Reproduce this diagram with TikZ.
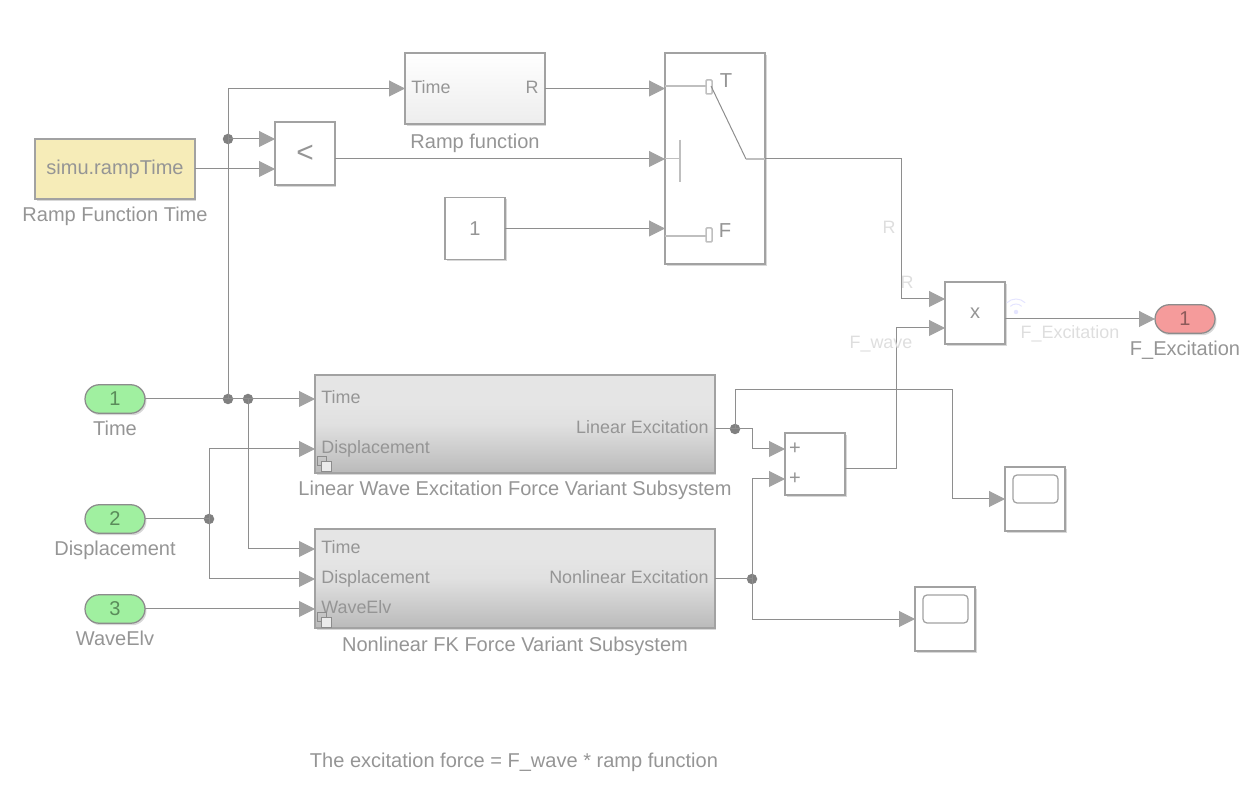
\documentclass[tikz,border=0pt]{standalone}
\usepackage{fontspec}
\setmainfont{Liberation Sans}
\usepackage{tikz}
\usetikzlibrary{arrows.meta, positioning, shapes.misc, shadows}

\definecolor{fio}{HTML}{8E8E8E}
\definecolor{borda}{HTML}{A2A2A2}
\definecolor{texto}{HTML}{959595}
\definecolor{palido}{HTML}{DEDEDE}
\pgfdeclareverticalshading{cinza}{100bp}{color(0bp)=(black!27); color(25bp)=(black!27); color(50bp)=(black!12); color(62bp)=(black!10); color(75bp)=(black!10); color(100bp)=(black!10)}

\begin{document}
\begin{tikzpicture}[
        x=0.02cm, y=-0.02cm,
        font=\fontsize{10.2}{12}\selectfont,
        text=texto,
        maior/.style={font=\fontsize{11.4}{13}\selectfont},
        sombra/.style={drop shadow={shadow xshift=0.03cm, shadow yshift=-0.04cm, fill=black!30, opacity=0.5}},
        bloco/.style={rectangle, draw=borda, line width=0.03cm, fill=white, outer sep=0pt, inner sep=0pt, maior, sombra},
        quadrado/.style={bloco, minimum width=1.2cm, minimum height=1.24cm},
        escopo/.style={bloco, minimum width=1.2cm, minimum height=1.28cm},
        subsistema/.style={bloco, minimum width=8cm, shading=cinza},
        porta/.style={rounded rectangle, draw=black!45, line width=0.025cm, minimum width=1.2cm, minimum height=0.57cm, outer sep=0pt, inner sep=0pt, maior, sombra},
        entrada/.style={porta, fill={rgb,255:red,160;green,240;blue,160}, text={rgb,255:red,90;green,140;blue,90}},
        saida/.style={porta, fill={rgb,255:red,245;green,155;blue,155}, text={rgb,255:red,140;green,90;blue,90}},
        rotulo/.style={text height=0.26cm, text depth=0.06cm, inner sep=0pt, outer sep=0pt, maior},
        textoporta/.style={anchor=west, inner sep=0pt, text height=0.26cm, text depth=0.06cm},
        sinal/.style={inner sep=0pt, text=palido, text height=0.26cm, text depth=0.06cm},
        juncao/.style={circle, fill=black!50, inner sep=0pt, minimum size=0.21cm},
        tela/.style={draw=borda, line width=0.025cm, rounded corners=0.08cm},
        interno/.style={draw=black!25, line width=0.03cm},
        conector/.style={draw=fio, line width=0.02cm, -{Triangle[length=0.32cm, width=0.32cm, color=borda, fill=borda]}},
        fio/.style={draw=fio, line width=0.02cm}
    ]
    \useasboundingbox (0,0) rectangle (1247,786);

    % BLOCOS DE CIMA
    \node[bloco, minimum width=3.2cm, minimum height=1.2cm, fill={rgb,255:red,246;green,236;blue,184}] (simu) at (115,169) {simu.rampTime};
    \node[rotulo, below=0.2cm of simu] (simu_txt) {Ramp Function Time};
    \node[quadrado, minimum height=1.26cm] (menor) at (305,153.5) {\fontsize{17}{17}\selectfont <};
    \node[bloco, minimum width=2.8cm, minimum height=1.42cm, top color=white, bottom color=black!7] (rampa) at (475,88.5) {};
    \node[rotulo, below=0.24cm of rampa] (rampa_txt) {Ramp function};
    \node[quadrado] (constante) at (475,228.5) {1};
    \node[bloco, minimum width=2cm, minimum height=4.22cm] (chave) at (715,158.5) {};
    \node[quadrado] (produto) at (975,313) {x};

    % SUBSISTEMAS
    \node[subsistema, minimum height=1.96cm] (linear) at (515,424) {};
    \node[rotulo, below=0.2cm of linear] (linear_txt) {Linear Wave Excitation Force Variant Subsystem};
    \node[subsistema, minimum height=1.98cm] (naolinear) at (515,578.5) {};
    \node[rotulo, below=0.22cm of naolinear] (naolinear_txt) {Nonlinear FK Force Variant Subsystem};
    \node[quadrado] (soma) at (815,464) {};
    \node[escopo] (escopo1) at (1035,499) {};
    \node[escopo] (escopo2) at (945,619) {};

    % ENTRADAS E SAIDA
    \node[entrada] (in1) at (115,399) {1};
    \node[rotulo, below=0.18cm of in1] (in1_txt) {Time};
    \node[entrada] (in2) at (115,519) {2};
    \node[rotulo, below=0.18cm of in2] (in2_txt) {Displacement};
    \node[entrada] (in3) at (115,609) {3};
    \node[rotulo, below=0.18cm of in3] (in3_txt) {WaveElv};
    \node[saida] (out1) at (1185,319) {1};
    \node[rotulo, below=0.18cm of out1] (out1_txt) {F\_Excitation};

    % TEXTOS INTERNOS
    \node[textoporta] (rampa_time) at (411,89) {Time};
    \node[textoporta, anchor=east] (rampa_r) at (539,89) {R};
    \node[textoporta] (linear_time) at (321,399) {Time};
    \node[textoporta] (linear_disp) at (321,449) {Displacement};
    \node[textoporta, anchor=east] (linear_out) at (709,429) {Linear Excitation};
    \node[textoporta] (nl_time) at (321,549) {Time};
    \node[textoporta] (nl_disp) at (321,579) {Displacement};
    \node[textoporta] (nl_wave) at (321,609) {WaveElv};
    \node[textoporta, anchor=east] (nl_out) at (709,579) {Nonlinear Excitation};
    \node[inner sep=0pt, font=\fontsize{11.5}{12}\selectfont] (chave_t) at (726,81) {T};
    \node[inner sep=0pt, font=\fontsize{11.5}{12}\selectfont] (chave_f) at (725,231) {F};
    \node[inner sep=0pt, maior] (mais1) at (795,449) {+};
    \node[inner sep=0pt, maior] (mais2) at (795,479) {+};
    \node[rotulo] (nota) at (514,762) {The excitation force = F\_wave * ramp function};

    % DESENHO DA CHAVE
    \draw[interno] (chave.west |- 0,86) -- (706,86);
    \draw[interno, rounded corners=0.02cm] (706,80) rectangle (712,94);
    \draw[interno] (chave.west) -- (680,158.5);
    \draw[interno] (680,140) -- (680,182);
    \draw[interno] (chave.west |- 0,236) -- (706,236);
    \draw[interno, rounded corners=0.02cm] (706,228) rectangle (712,242);
    \draw[fio] (711,86) -- (746,159);
    \draw[interno] (746,159) -- (765,159);

    % TELAS E ICONES
    \draw[tela] (1013,475) rectangle (1058,503);
    \draw[tela] (923,595) rectangle (968,623);
    \foreach \ypos in {456,612} {
        \draw[draw=black!45, line width=0.012cm] (317,\ypos) rectangle (326,\ypos+9);
        \draw[draw=black!45, line width=0.012cm, fill=black!8] (321,\ypos+5) rectangle (331,\ypos+15);
    }

    % PONTOS DE LIGACAO
    \coordinate (chave_in2) at (665,159);
    \coordinate (chave_out) at (765,159);
    \coordinate (menor_in1) at (275,139);
    \coordinate (menor_in2) at (275,169);
    \coordinate (menor_out) at (335,159);
    \coordinate (prod_in1) at (945,299);
    \coordinate (prod_in2) at (945,328);
    \coordinate (prod_out) at (1005,319);
    \coordinate (soma_in1) at (785,449);
    \coordinate (soma_in2) at (785,479);
    \coordinate (soma_out) at (845,469);
    \coordinate (linear_in1) at (315,399);
    \coordinate (linear_in2) at (315,449);
    \coordinate (linear_sai) at (715,429);
    \coordinate (nl_in1) at (315,549);
    \coordinate (nl_in2) at (315,579);
    \coordinate (nl_in3) at (315,609);
    \coordinate (nl_sai) at (715,579);
    \coordinate (esc1_in) at (1005,499);
    \coordinate (esc2_in) at (915,619);
    \node[juncao] (j_tempo1) at (228,399) {};
    \node[juncao] (j_tempo2) at (248,399) {};
    \node[juncao] (j_menor) at (228,139) {};
    \node[juncao] (j_desl) at (209,519) {};
    \node[juncao] (j_linear) at (735,429) {};
    \node[juncao] (j_nl) at (752,579) {};

    % --- CONECTORES ---
    \draw[conector] (in1.east) -- (linear_in1);
    \draw[conector] (j_tempo1.center) |- (rampa.west);
    \draw[conector] (j_menor.center) -- (menor_in1);
    \draw[conector] (simu.east) -- (menor_in2);
    \draw[conector] (rampa.east) -- (chave.west |- rampa.east);
    \draw[conector] (menor_out) -- (chave_in2);
    \draw[conector] (constante.east) -- (chave.west |- constante.east);
    \draw[conector] (chave_out) -| (901,299) -- (prod_in1);
    \draw[conector] (prod_out) -- (out1.west);
    \draw[conector] (j_tempo2.center) |- (nl_in1);
    \draw[conector] (in3.east) -- (nl_in3);
    \draw[fio] (in2.east) -- (j_desl.center);
    \draw[conector] (j_desl.center) |- (linear_in2);
    \draw[conector] (j_desl.center) |- (nl_in2);
    \draw[conector] (linear_sai) -| (752,449) -- (soma_in1);
    \draw[conector] (j_linear.center) |- (952,390) |- (esc1_in);
    \draw[fio] (nl_sai) -- (j_nl.center);
    \draw[conector] (j_nl.center) |- (soma_in2);
    \draw[conector] (j_nl.center) |- (esc2_in);
    \draw[conector] (soma_out) -| (896,328) -- (prod_in2);

    % ROTULOS DE SINAL
    \node[sinal] (r_chave) at (889,229) {R};
    \node[sinal] (r_prod) at (907,284) {R};
    \node[sinal] (f_wave) at (881,344) {F\_wave};
    \node[sinal] (f_exc) at (1070,334) {F\_Excitation};
    \fill[blue!10] (1016,312) circle (0.045cm);
    \draw[blue!10, line width=0.02cm] (1016,312) ++(45:0.16cm) arc[start angle=45, end angle=135, radius=0.16cm];
    \draw[blue!10, line width=0.02cm] (1016,312) ++(45:0.26cm) arc[start angle=45, end angle=135, radius=0.26cm];

\end{tikzpicture}
\end{document}
